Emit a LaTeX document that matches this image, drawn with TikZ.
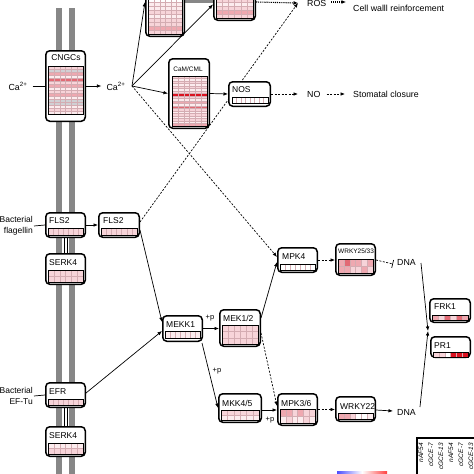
\documentclass[tikz,border=0pt]{standalone}
\usepackage{fontspec}
\setmainfont{Liberation Sans}
\usetikzlibrary{arrows.meta,calc}
\definecolor{hmA}{RGB}{255,255,255}
\definecolor{hmB}{RGB}{252,236,238}
\definecolor{hmC}{RGB}{247,212,217}
\definecolor{hmD}{RGB}{239,168,176}
\definecolor{hmE}{RGB}{226,105,116}
\definecolor{hmF}{RGB}{218,18,32}
\definecolor{hmG}{RGB}{208,208,212}
\definecolor{memb}{RGB}{135,135,135}
\definecolor{gridc}{RGB}{212,172,178}
\pgfdeclarelayer{bg}
\pgfsetlayers{bg,main}
\newcommand{\hgrid}[6]{%
 \pgfmathsetmacro\hmdx{(#3-#1)/#5}%
 \pgfmathsetmacro\hmdy{(#4-#2)/#6}%
 \foreach \hmk in {1,...,#5}{\draw[hmgrid] ({#1+\hmk*\hmdx},#2) -- ({#1+\hmk*\hmdx},#4);}%
 \foreach \hmk in {1,...,#6}{\draw[hmgrid] (#1,{#2+\hmk*\hmdy}) -- (#3,{#2+\hmk*\hmdy});}%
 \draw[hmframe] (#1,#2) rectangle (#3,#4);}
\newcommand{\hrows}[7]{%
 \pgfmathsetmacro\hmdy{(#4-#2)/#6}%
 \foreach \hmcol [count=\hmr from 0] in {#7}{\fill[fill=\hmcol] (#1,{#2+\hmr*\hmdy}) rectangle (#3,{#2+(\hmr+1)*\hmdy});}%
 \hgrid{#1}{#2}{#3}{#4}{#5}{#6}}
\newcommand{\hcells}[7]{%
 \pgfmathsetmacro\hmdx{(#3-#1)/#5}%
 \pgfmathsetmacro\hmdy{(#4-#2)/#6}%
 \foreach \hmcol [count=\hmi from 0] in {#7}{%
   \pgfmathtruncatemacro\hmcx{mod(\hmi,#5)}%
   \pgfmathtruncatemacro\hmcy{floor(\hmi/#5)}%
   \fill[fill=\hmcol] ({#1+\hmcx*\hmdx},{#2+\hmcy*\hmdy}) rectangle ({#1+(\hmcx+1)*\hmdx},{#2+(\hmcy+1)*\hmdy});}%
 \hgrid{#1}{#2}{#3}{#4}{#5}{#6}}
\newcommand{\gbox}[5]{\node[gbox, minimum width={(#4-#2-1.5)*1pt}, minimum height={(#5-#3-1.5)*1pt}] (#1) at ({(#2+#4)/2},{(#3+#5)/2}) {};}
\begin{document}
\begin{tikzpicture}[x=1pt,y=-1pt,
  gbox/.style={draw, line width=1.5pt, rounded corners=4pt, fill=white, inner sep=0pt},
  lab/.style={font=\fontsize{8.5}{10}\selectfont, inner sep=0pt, anchor=west},
  small/.style={font=\fontsize{6.5}{8}\selectfont, inner sep=0pt},
  txt/.style={font=\fontsize{8.8}{11}\selectfont, inner sep=0pt},
  conn/.style={line width=0.7pt, -{Latex[length=4.5pt,width=3.6pt]}},
  dconn/.style={conn, dash pattern=on 2pt off 1.5pt},
  dotconn/.style={line width=1.1pt, dash pattern=on 1pt off 0.9pt, -{Latex[length=4.5pt,width=4pt]}},
  plain/.style={line width=0.7pt},
  hmgrid/.style={draw=gridc, line width=0.3pt},
  hmframe/.style={draw=black, line width=0.6pt}]
\useasboundingbox (0,0) rectangle (474,474);
\clip (0,0) rectangle (474,474);
% ---------- boxes ----------
\gbox{b1}{145}{-14}{185}{37}
\gbox{b2}{213}{-14}{256}{21}
\gbox{cngc}{45}{50}{86}{122}
\gbox{caml}{168}{58}{210}{129}
\gbox{nos}{228}{81}{271}{107}
\gbox{fls2a}{45}{212}{86}{238}
\gbox{serk4a}{45}{253}{86}{285}
\gbox{fls2b}{98}{212}{140}{238}
\gbox{efr}{45}{382}{86}{408}
\gbox{serk4b}{45}{426}{86}{457}
\gbox{mekk1}{162}{315}{203}{342}
\gbox{mek12}{219}{309}{261}{347}
\gbox{mpk4}{277}{247}{318}{273}
\gbox{wrkyA}{335}{243}{376}{276}
\gbox{mkk45}{218}{393}{262}{423}
\gbox{mpk36}{277}{393}{318}{426}
\gbox{wrkyB}{335}{396}{376}{422}
\gbox{frk1}{429}{298}{471}{323}
\gbox{pr1}{430}{336}{471}{358}
% ---------- free texts ----------
\node[txt] (ca2l) at (18,86) {Ca\textsuperscript{2+}};
\node[txt] (ca2r) at (116,86) {Ca\textsuperscript{2+}};
\coordinate (hub) at (132,86);
\node[txt, anchor=west] (ros) at (307,3) {ROS};
\node[txt, anchor=west] (cw) at (353,8) {Cell walll reinforcement};
\node[txt, anchor=west] (no) at (307,94) {NO};
\node[txt, anchor=west] (stom) at (353,94) {Stomatal closure};
\node[txt, align=right, anchor=east, font=\fontsize{8.5}{11}\selectfont] (flag) at (33,226) {Bacterial\\flagellin};
\node[txt, align=right, anchor=east, font=\fontsize{8.5}{11}\selectfont] (eftu) at (33,396) {Bacterial\\EF-Tu};
\node[txt, anchor=west] (dnaA) at (397,262) {DNA};
\node[txt, anchor=west] (dnaB) at (397,412) {DNA};
\coordinate (jn) at (428,331);
\node[small, font=\fontsize{7.5}{8}\selectfont] (p1) at (210,318) {+p};
\node[small, font=\fontsize{7.5}{8}\selectfont] (p2) at (217,371) {+p};
\node[small, font=\fontsize{7.5}{8}\selectfont] (p3) at (270,420) {+p};
% ---------- background: membrane and connectors ----------
\begin{pgfonlayer}{bg}
\fill[memb] (55.5,8) rectangle (61.5,480);
\fill[memb] (69,8) rectangle (74.5,480);
\fill[memb] (b1.east |- 0,-2) rectangle (b2.west |- 0,3);
\draw[plain] ([xshift=5pt]ca2l.east) -- (cngc.west);
\draw[conn] (cngc.east) -- ([xshift=-5pt]ca2r.west);
\draw[conn] (hub) -- ([yshift=9.5pt]b1.west);
\draw[conn] (hub) -- ([yshift=-1pt]b2.west);
\draw[conn] (hub) -- (caml.west);
\draw[dconn] (hub) -- ([yshift=3pt]mpk4.west);
\draw[conn] (caml.east) -- (nos.west);
\draw[dconn] (nos.east) -- ([xshift=-9pt]no.west);
\draw[dconn] ([xshift=6pt]no.east) -- ([xshift=-8pt]stom.west);
\draw[dotconn] ([yshift=1.5pt]b2.east) -- ([xshift=-9pt]ros.west);
\draw[dotconn] ([xshift=5pt,yshift=1pt]ros.east) -- ([shift={(-7pt,6pt)}]cw.west);
\draw[plain] ([xshift=1pt]flag.east) -- (fls2a.west);
\draw[conn] (fls2a.east) -- (fls2b.west);
\draw[plain] ([xshift=-1.5pt]fls2a.south) -- ([xshift=-1.5pt]serk4a.north);
\draw[plain] ([xshift=1.5pt]fls2a.south) -- ([xshift=1.5pt]serk4a.north);
\draw[plain] ([xshift=1pt]eftu.east) -- (efr.west);
\draw[plain] ([xshift=-1.5pt]efr.south) -- ([xshift=-1.5pt]serk4b.north);
\draw[plain] ([xshift=1.5pt]efr.south) -- ([xshift=1.5pt]serk4b.north);
\draw[dconn] ([yshift=3pt]fls2b.east) -- ([xshift=-9pt]ros.west);
\draw[conn] ([yshift=-5pt]fls2b.east) -- ([yshift=6.5pt]mekk1.west);
\draw[conn] ([yshift=2pt]efr.east) -- ([yshift=-2.5pt]mekk1.west);
\draw[conn] (mekk1.east) -- (mekk1.east -| mek12.west);
\draw[conn] ([xshift=-1pt,yshift=-1pt]mekk1.south east) -- (mkk45.west);
\draw[conn] ([yshift=10pt]mek12.east) -- ([yshift=-2pt]mpk4.west);
\draw[dconn] ([yshift=-5pt]mek12.east) -- ([yshift=3.5pt]mpk36.west);
\draw[conn] ([yshift=-2pt]mkk45.east) -- ([yshift=-2pt]mkk45.east -| mpk36.west);
\draw[dconn] (mpk4.east) -- (mpk4.east -| wrkyA.west);
\draw[line width=0.7pt, dash pattern=on 2pt off 1.5pt, -{Bar[width=8pt]}] ([yshift=-0.5pt]wrkyA.east) -- ([xshift=-4pt,yshift=-2pt]dnaA.west);
\draw[conn] ([xshift=5pt,yshift=-1pt]dnaA.east) -- (jn);
\draw[dconn] (mpk36.east) -- (mpk36.east -| wrkyB.west);
\draw[conn] ([yshift=-1pt]wrkyB.east) -- ([xshift=-4pt,yshift=1pt]dnaB.west);
\draw[conn] ([xshift=4pt,yshift=5pt]dnaB.east) -- (jn);
\end{pgfonlayer}
% ---------- heatmaps ----------
\hrows{148.5}{-10}{182}{34}{6}{11}{hmA,hmB,hmA,hmB,hmB,hmC,hmB,hmC,hmC,hmD,hmC}
\hrows{216}{-10}{253}{18}{6}{7}{hmB,hmB,hmC,hmB,hmC,hmD,hmC}
\hrows{48}{66}{83}{114}{6}{16}{hmC,hmG,hmD,hmB,hmE,hmC,hmD,hmB,hmC,hmD,hmB,hmG,hmG,hmB,hmC,hmB}
\hrows{172}{76}{207}{126}{6}{20}{hmC,hmB,hmC,hmB,hmC,hmB,hmC,hmF,hmC,hmB,hmD,hmB,hmE,hmC,hmB,hmC,hmB,hmC,hmB,hmD}
\hrows{232}{97}{268}{103}{8}{1}{hmA}
\hrows{48}{228}{83}{235}{7}{1}{hmC}
\hrows{101}{228}{137}{235}{7}{1}{hmC}
\hrows{48}{270}{83}{282}{6}{2}{hmC,hmC}
\hrows{48}{399}{83}{405}{7}{1}{hmC}
\hrows{48}{443}{83}{454}{6}{2}{hmB,hmC}
\hrows{165}{331}{200}{338}{7}{1}{hmB}
\hrows{222}{325}{258}{344}{6}{3}{hmC,hmC,hmC}
\hrows{280}{264}{315}{270}{7}{1}{hmA}
\hcells{338}{259}{373}{273}{6}{2}{hmD,hmE,hmD,hmD,hmC,hmD,hmD,hmD,hmC,hmC,hmD,hmC}
\hrows{221}{410}{259}{420}{6}{2}{hmC,hmB}
\hcells{280}{409}{315}{423}{6}{2}{hmD,hmD,hmC,hmD,hmC,hmC,hmB,hmC,hmB,hmB,hmC,hmB}
\hcells{338}{413}{373}{419}{6}{1}{hmD,hmD,hmC,hmA,hmA,hmB}
\hcells{432}{315}{468}{320}{6}{1}{hmD,hmC,hmE,hmC,hmE,hmD}
\hcells{433}{352}{468}{357}{6}{1}{hmC,hmC,hmA,hmF,hmF,hmF}
% ---------- box labels ----------
\node[lab, anchor=center] (lcngc) at (66,58) {CNGCs};
\node[small] (lcaml) at (188,69) {CaM/CML};
\node[lab] (lnos) at (232,90) {NOS};
\node[lab] (lfls2a) at (49,221) {FLS2};
\node[lab] (lserk4a) at (49,263) {SERK4};
\node[lab] (lfls2b) at (103,221) {FLS2};
\node[lab] (lefr) at (49,392) {EFR};
\node[lab] (lserk4b) at (49,436) {SERK4};
\node[lab] (lmekk1) at (166,325) {MEKK1};
\node[lab] (lmek12) at (223,318) {MEK1/2};
\node[lab] (lmpk4) at (282,257) {MPK4};
\node[small, anchor=west] (lwrkyA) at (338,251) {WRKY25/33};
\node[lab] (lmkk45) at (222,403) {MKK4/5};
\node[lab] (lmpk36) at (281,403) {MPK3/6};
\node[lab] (lwrkyB) at (340,407) {WRKY22};
\node[lab] (lfrk1) at (434,307) {FRK1};
\node[lab] (lpr1) at (434,346) {PR1};
% ---------- legend (cut off) ----------
\draw[line width=1.5pt] (417,438) rectangle (482,482);
\foreach \lx/\lt [count=\li] in {421/nAF54,431/cGCE-7,441/cGCE-13,451/nAF54,461/cGCE-7,471/cGCE-13}
  \node[small, font=\itshape\fontsize{6.5}{7}\selectfont, rotate=90, anchor=east] (leg\li) at (\lx,443) {\lt};
\shade[left color=blue!70, right color=red!75, middle color=white] (337,471) rectangle (387,480);
\end{tikzpicture}
\end{document}
